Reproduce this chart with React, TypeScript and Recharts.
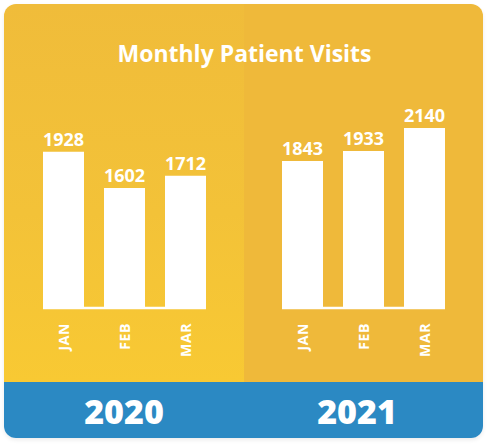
import React from 'react';
import { BarChart, Bar, XAxis, YAxis, LabelList } from 'recharts';

const months = ['JAN', 'FEB', 'MAR'];
const visits2020 = [1928, 1602, 1712];
const visits2021 = [1843, 1933, 2140];
const years = ['2020', '2021'];
const title = 'Monthly Patient Visits';

const FONT = '"Open Sans", sans-serif';

const MonthTick = (props: any) => {
  const { x, y, payload } = props;
  const ty = y + 7;
  return (
    <text
      x={x}
      y={ty}
      dy="0.36em"
      transform={`rotate(-90, ${x}, ${ty})`}
      textAnchor="end"
      fill="#ffffff"
      fontSize={14}
      fontWeight={700}
      fontFamily={FONT}
      letterSpacing={0.6}
    >
      {payload.value}
    </text>
  );
};

const YearChart: React.FC<{ values: number[]; left: number; width: number; margin: { left: number; right: number } }> = ({
  values,
  left,
  width,
  margin,
}) => {
  const data = months.map((m, i) => ({ month: m, visits: values[i] }));
  return (
    <div style={{ position: 'absolute', left, top: 0 }}>
      <BarChart
        width={width}
        height={378}
        data={data}
        margin={{ top: 128, right: margin.right, bottom: 10, left: margin.left }}
        barCategoryGap={10}
      >
        <XAxis
          dataKey="month"
          axisLine={{ stroke: '#ffffff', strokeWidth: 2.5 }}
          tickLine={false}
          tick={<MonthTick />}
          interval={0}
          height={60}
          padding={{ left: -10, right: -10 }}
        />
        <YAxis hide domain={[525, 2140]} allowDataOverflow />
        <Bar dataKey="visits" fill="#ffffff" isAnimationActive={false}>
          <LabelList
            dataKey="visits"
            position="top"
            offset={6}
            fill="#ffffff"
            fontSize={18}
            fontWeight={700}
            fontFamily={FONT}
          />
        </Bar>
      </BarChart>
    </div>
  );
};

export default function App() {
  return (
    <div style={{ position: 'absolute', left: 0, top: 0, width: 489, height: 445, background: '#ffffff', fontFamily: FONT }}>
      <div
        style={{
          position: 'absolute',
          left: 4,
          top: 4,
          width: 479,
          height: 434,
          borderRadius: 12,
          overflow: 'hidden',
          boxShadow: '0 2px 4px rgba(0,0,0,0.08)',
        }}
      >
        {/* panels */}
        <div style={{ position: 'absolute', left: 0, top: 0, width: 240, height: 378, background: 'linear-gradient(180deg, #F0BC3A 0%, #F3C238 55%, #F8C933 100%)' }} />
        <div style={{ position: 'absolute', left: 240, top: 0, width: 239, height: 378, background: '#EFB93A' }} />
        <div style={{ position: 'absolute', left: 0, top: 378, width: 479, height: 56, background: '#2B89C3' }} />
      </div>

      <div
        style={{
          position: 'absolute',
          left: 0,
          top: 37,
          width: 489,
          textAlign: 'center',
          color: '#ffffff',
          fontSize: 23,
          fontWeight: 700,
          lineHeight: '32px',
        }}
      >
        {title}
      </div>

      <YearChart values={visits2020} left={4} width={240} margin={{ left: 39, right: 38 }} />
      <YearChart values={visits2021} left={244} width={239} margin={{ left: 38, right: 38 }} />

      {years.map((y, i) => (
        <div
          key={y}
          style={{
            position: 'absolute',
            left: i === 0 ? 4 : 244,
            top: 388,
            width: i === 0 ? 240 : 226,
            textAlign: 'center',
            color: '#ffffff',
            fontSize: 34,
            fontWeight: 800,
            lineHeight: '46px',
          }}
        >
          {y}
        </div>
      ))}
    </div>
  );
}
